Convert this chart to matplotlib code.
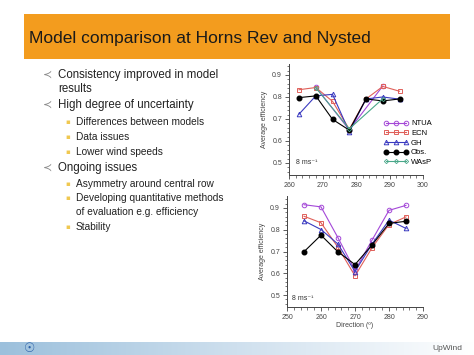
import matplotlib
matplotlib.use("Agg")
import matplotlib.pyplot as plt
import numpy as np
from matplotlib.ticker import MultipleLocator
from matplotlib.colors import LinearSegmentedColormap

# ---------------- data ----------------
title = "Model comparison at Horns Rev and Nysted"
bullets = [
    (0, "Consistency improved in model"),
    (0, "results"),
    (0, "High degree of uncertainty"),
    (1, "Differences between models"),
    (1, "Data issues"),
    (1, "Lower wind speeds"),
    (0, "Ongoing issues"),
    (1, "Asymmetry around central row"),
    (1, "Developing quantitative methods"),
    (1, "of evaluation e.g. efficiency"),
    (1, "Stability"),
]
bullet_marks = [True, False, True, True, True, True, True, True, True, False, True]

# Top chart (Horns Rev)
top_dir = [263, 268, 273, 278, 283, 288, 293]
top_obs = [0.797, 0.805, 0.698, 0.649, 0.791, 0.782, 0.791]
top_ecn = [0.833, 0.843, 0.780, 0.653, 0.791, 0.848, 0.826]
top_gh = [0.722, 0.805, 0.812, 0.641, 0.791, 0.800, 0.790]
top_ntua_dir = [268, 278, 288]
top_ntua = [0.845, 0.650, 0.850]
top_wasp_dir = [268, 278, 288]
top_wasp = [0.842, 0.655, 0.792]

# Bottom chart (Nysted)
bot_dir = [255, 260, 265, 270, 275, 280, 285]
bot_ntua = [0.915, 0.905, 0.763, 0.613, 0.752, 0.889, 0.912]
bot_ecn = [0.862, 0.832, 0.719, 0.588, 0.717, 0.824, 0.859]
bot_gh = [0.841, 0.801, 0.734, 0.608, 0.734, 0.844, 0.806]
bot_obs = [0.699, 0.775, 0.698, 0.640, 0.730, 0.829, 0.839]

legend_labels = ["NTUA", "ECN", "GH", "Obs.", "WAsP"]

# ---------------- styles ----------------
C_NTUA = "#a448d8"
C_ECN = "#e0605a"
C_GH = "#3a3ac0"
C_OBS = "#000000"
C_WASP = "#4aa88a"
FONT = ["Liberation Sans", "DejaVu Sans"]
plt.rcParams["font.family"] = FONT

fig = plt.figure(figsize=(4.74, 3.55), dpi=100)
fig.patch.set_facecolor("white")

# title bar
bar = fig.add_axes([24 / 474, 1 - 59 / 355, 426 / 474, 45 / 355])
bar.set_facecolor("#f39c1e")
bar.set_xticks([]); bar.set_yticks([])
for s in bar.spines.values():
    s.set_visible(False)
fig.text(29 / 474, 1 - 38 / 355, title, fontsize=12.5, family=FONT,
         color="#1a1a1a", va="center", ha="left")

# bullets
ys = [75, 89, 105, 122, 137, 152, 168, 184, 198, 212, 227]
for (lvl, txt), y, mark in zip(bullets, ys, bullet_marks):
    if lvl == 0:
        if mark:
            fig.text(43 / 474, 1 - y / 355, "\u227a", fontsize=8, color="#8a8a8a",
                     va="center", ha="left", family="DejaVu Sans")
        fig.text(58 / 474, 1 - y / 355, txt, fontsize=8.3, family=FONT,
                 color="#222222", va="center", ha="left")
    else:
        if mark:
            fig.text(65 / 474, 1 - y / 355, "\u25aa", fontsize=5, color="#f0c850",
                     va="center", ha="left", family="DejaVu Sans")
        fig.text(76 / 474, 1 - y / 355, txt, fontsize=7.3, family=FONT,
                 color="#222222", va="center", ha="left")

# footer gradient
foot = fig.add_axes([0, 0, 1, 13 / 355])
grad = np.linspace(0, 1, 256).reshape(1, -1)
cmap = LinearSegmentedColormap.from_list("g", ["#9cc0dc", "#cfe0ee", "#ffffff"])
foot.imshow(grad, aspect="auto", cmap=cmap, extent=[0, 1, 0, 1])
foot.set_xlim(0, 1); foot.set_ylim(0, 1)
foot.axis("off")
fig.text(30 / 474, 6 / 355, "\u2609", fontsize=9, color="#2a5fa8", ha="center", va="center",
         family="DejaVu Sans")
fig.text(462 / 474, 6 / 355, "UpWind", fontsize=6, color="#555555", ha="right",
         va="center", family=FONT)


def style_ax(ax):
    for s in ["top", "right"]:
        ax.spines[s].set_visible(False)
    for s in ["left", "bottom"]:
        ax.spines[s].set_color("#444444")
        ax.spines[s].set_linewidth(0.7)
    ax.tick_params(axis="both", which="major", labelsize=5, colors="#444444",
                   length=3, width=0.6, direction="out", pad=2)
    ax.tick_params(axis="both", which="minor", length=1.8, width=0.5,
                   direction="out", colors="#444444")
    ax.yaxis.set_major_locator(MultipleLocator(0.1))
    ax.yaxis.set_minor_locator(MultipleLocator(0.02))
    ax.xaxis.set_major_locator(MultipleLocator(10))
    ax.xaxis.set_minor_locator(MultipleLocator(2))
    ax.set_yticks([0.5, 0.6, 0.7, 0.8, 0.9])
    ax.set_ylabel("Average efficiency", fontsize=5, color="#444444", labelpad=3)
    ax.patch.set_alpha(0)


ms = 3.3
# top chart
ax1 = fig.add_axes([289 / 474, 1 - 175 / 355, 134 / 474, 111 / 355])
ax1.plot(top_ntua_dir, top_ntua, color=C_NTUA, marker="o", mfc="none", ms=ms, lw=0.8, mew=0.7, label=legend_labels[0])
ax1.plot(top_dir, top_ecn, color=C_ECN, marker="s", mfc="none", ms=ms, lw=0.8, mew=0.7, label=legend_labels[1])
ax1.plot(top_dir, top_gh, color=C_GH, marker="^", mfc="none", ms=ms, lw=0.8, mew=0.7, label=legend_labels[2])
ax1.plot(top_dir, top_obs, color=C_OBS, marker="o", ms=ms, lw=0.8, label=legend_labels[3])
ax1.plot(top_wasp_dir, top_wasp, color=C_WASP, marker="D", mfc="none", ms=2.2, lw=0.8, mew=0.6, label=legend_labels[4])
ax1.set_xlim(260, 300)
ax1.set_ylim(0.445, 0.95)
style_ax(ax1)
ax1.text(262, 0.5, "8 ms\u207b\u00b9", fontsize=5, color="#333333", va="center", family=FONT)
ax1.legend(loc="lower right", bbox_to_anchor=(1.12, 0.02), frameon=False,
           numpoints=3, handlelength=3.2, handletextpad=0.4, labelspacing=0.3,
           prop={"family": FONT, "size": 5.5})

# bottom chart
ax2 = fig.add_axes([287 / 474, 1 - 307 / 355, 136 / 474, 111 / 355])
ax2.plot(bot_dir, bot_ntua, color=C_NTUA, marker="o", mfc="none", ms=ms, lw=0.8, mew=0.7)
ax2.plot(bot_dir, bot_ecn, color=C_ECN, marker="s", mfc="none", ms=ms, lw=0.8, mew=0.7)
ax2.plot(bot_dir, bot_gh, color=C_GH, marker="^", mfc="none", ms=ms, lw=0.8, mew=0.7)
ax2.plot(bot_dir, bot_obs, color=C_OBS, marker="o", ms=ms, lw=0.8)
ax2.set_xlim(250, 290)
ax2.set_ylim(0.445, 0.955)
style_ax(ax2)
ax2.text(251.5, 0.485, "8 ms\u207b\u00b9", fontsize=5, color="#333333", va="center", family=FONT)
ax2.set_xlabel("Direction (\u00ba)", fontsize=5, color="#444444", labelpad=1, family=FONT)

fig.savefig("out.png", dpi=100, facecolor="white")
